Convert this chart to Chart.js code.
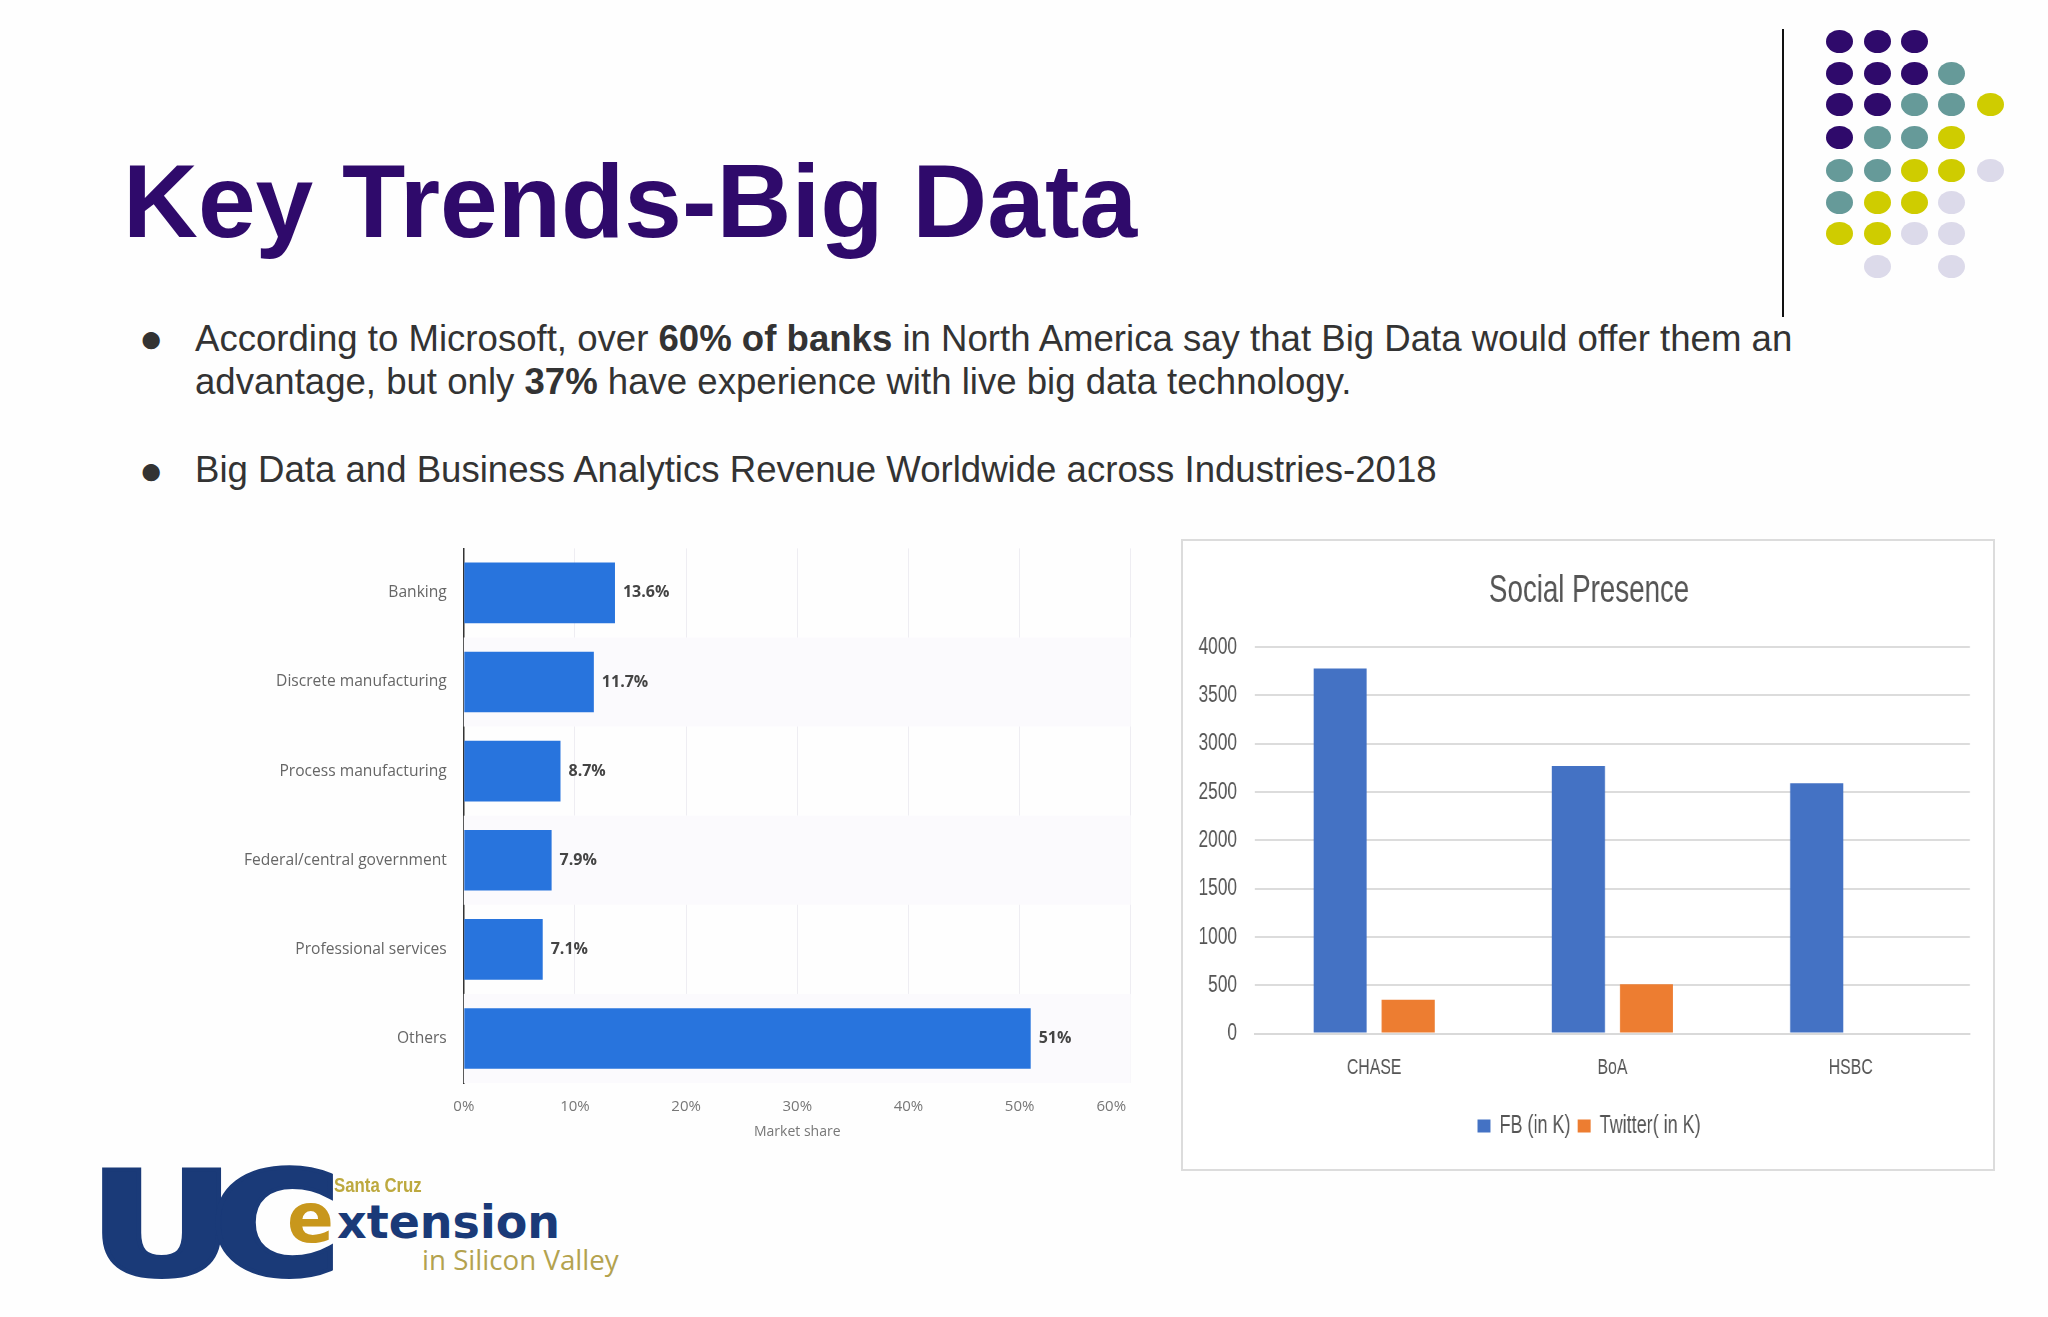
<!DOCTYPE html>
<html>
<head>
<meta charset="utf-8">
<script src="https://cdn.jsdelivr.net/npm/chart.js@4"></script>
<style>
    html, body { margin: 0; padding: 0; background: #fefefe; }
    #slide { position: relative; width: 2048px; height: 1317px; overflow: hidden; font-family: "Liberation Sans", Arial, sans-serif; }
    .txt { position: absolute; white-space: nowrap; line-height: 1; }
    .body { font-size: 36.6px; color: #333; }
    .bullet { font-size: 40px; color: #333; }
    .dot { position: absolute; width: 27px; height: 23px; border-radius: 50%; }
    canvas { position: absolute; }
    #frame { position: absolute; left: 1181px; top: 539px; width: 810px; height: 628px; border: 2px solid #dcdcdc; background: #fff; }
    .logo { font-family: "DejaVu Sans", sans-serif; font-weight: bold; color: #1a3a78; }
    /* the bank chart looks squeezed sideways in the original, so its canvas is squeezed too */
    #socialChart { transform: scaleX(0.72); transform-origin: left top; }
</style>
</head>
<body>
<div id="slide">
    <div class="txt" style="left:123px; top:150px; font-size:103.7px; font-weight:bold; color:#2f0a6b;">Key Trends-Big Data</div>

    <div class="txt bullet" style="left:139px; top:318px;">●</div>
    <div class="txt body" style="left:195px; top:321px;">According to Microsoft, over <b>60% of banks</b> in North America say that Big Data would offer them an</div>
    <div class="txt body" style="left:195px; top:364px;">advantage, but only <b>37%</b> have experience with live big data technology.</div>
    <div class="txt bullet" style="left:139px; top:450px;">●</div>
    <div class="txt body" style="left:195px; top:452px;">Big Data and Business Analytics Revenue Worldwide across Industries-2018</div>

    <div style="position:absolute; left:1782px; top:29px; width:2px; height:288px; background:#111;"></div>
    <div id="dots"></div>

    <canvas id="shareChart" style="left:100px; top:530px;" width="1080" height="620"></canvas>
    <div id="frame"></div>
    <canvas id="socialChart" style="left:1182px; top:539px;" width="1132" height="633"></canvas>

    <div class="txt logo" style="left:88px; top:1152px; font-size:145px; letter-spacing:-21px; -webkit-text-stroke:4px #1a3a78; transform:scaleX(1.25); transform-origin:left top;">UC</div>
    <div class="txt logo" style="left:287px; top:1184px; font-size:69px; color:#c8971c;">e</div>
    <div class="txt logo" style="left:337px; top:1199px; font-size:46px;">xtension</div>
    <div class="txt" style="left:334px; top:1175px; font-size:20px; font-weight:bold; color:#bda93f; transform:scaleX(0.84); transform-origin:left top;">Santa Cruz</div>
    <div class="txt" style="left:422px; top:1246px; font-size:27.7px; color:#b3a24e; font-family:'Open Sans';">in Silicon Valley</div>
</div>

<script>
// Market share chart
const shareCategories = ['Banking', 'Discrete manufacturing', 'Process manufacturing', 'Federal/central government', 'Professional services', 'Others'];
const shareValues = [13.6, 11.7, 8.7, 7.9, 7.1, 51];
const shareTicks = [0, 10, 20, 30, 40, 50, 60];

// Social presence chart
const socialCategories = ['CHASE', 'BoA', 'HSBC'];
const fbValues = [3780, 2770, 2590];
const twitterValues = [350, 510, 0];

// Decoration in the top right corner, P purple, T teal, Y yellow, L lavender
const dotRows = ['PPP', 'PPPT', 'PPTTY', 'PTTY', 'TTYYL', 'TYYL', 'YYLL', ' L L'];
const dotColors = { P: '#2f0a6b', T: '#669a99', Y: '#cfcc00', L: '#dcdaea' };
const dotColumnsX = [1839, 1877, 1914, 1951, 1990];
const dotRowsY = [41, 73, 104, 137, 170, 202, 233, 266];

const dotsBox = document.getElementById('dots');
dotRows.forEach((row, r) => {
    row.split('').forEach((c, i) => {
        if (c === ' ') return;
        const dot = document.createElement('div');
        dot.className = 'dot';
        dot.style.left = (dotColumnsX[i] - 13.5) + 'px';
        dot.style.top = (dotRowsY[r] - 11.5) + 'px';
        dot.style.background = dotColors[c];
        dotsBox.appendChild(dot);
    });
});

// Draws the pale bands behind every second row
const rowBands = {
    id: 'rowBands',
    beforeDatasetsDraw(chart) {
        const { ctx, chartArea, scales } = chart;
        const rowHeight = scales.y.height / shareCategories.length;
        ctx.save();
        ctx.fillStyle = '#fbfafd';
        shareCategories.forEach((name, i) => {
            if (i % 2 === 1) {
                ctx.fillRect(chartArea.left, scales.y.getPixelForValue(i) - rowHeight / 2, chartArea.width, rowHeight);
            }
        });
        ctx.restore();
    }
};

// Writes the value next to each bar
const valueLabels = {
    id: 'valueLabels',
    afterDatasetsDraw(chart) {
        const ctx = chart.ctx;
        ctx.save();
        ctx.font = 'bold 16px "Open Sans"';
        ctx.fillStyle = '#444';
        ctx.textBaseline = 'middle';
        chart.getDatasetMeta(0).data.forEach((bar, i) => {
            ctx.fillText(shareValues[i] + '%', bar.x + 8, bar.y);
        });
        ctx.restore();
    }
};

new Chart(document.getElementById('shareChart'), {
    type: 'bar',
    data: {
        labels: shareCategories,
        datasets: [{
            data: shareValues,
            backgroundColor: '#2874dd',
            categoryPercentage: 0.68,
            barPercentage: 1
        }]
    },
    options: {
        indexAxis: 'y',
        responsive: false,
        animation: false,
        layout: { padding: { top: 12.5, right: 11, bottom: 0, left: 0 } },
        plugins: { legend: { display: false }, tooltip: { enabled: false } },
        scales: {
            x: {
                min: 0,
                max: 60,
                afterBuildTicks: axis => { axis.ticks = shareTicks.map(v => ({ value: v })); },
                afterFit: axis => { axis.height = 67; },
                grid: { color: '#eeedf2', drawTicks: false },
                border: { display: false },
                title: { display: true, text: 'Market share', color: '#777', font: { family: 'Open Sans', size: 14 }, padding: { top: 4, bottom: 10 } },
                ticks: {
                    color: '#777',
                    font: { family: 'Open Sans', size: 15 },
                    padding: 15,
                    maxRotation: 0,
                    callback: v => (v === 60 ? v + '%          ' : v + '%')
                }
            },
            y: {
                afterFit: axis => { axis.width = 363.8; },
                grid: { display: false },
                border: { color: '#333', width: 1.5 },
                ticks: { color: '#666', font: { family: 'Open Sans', size: 15.6 }, padding: 9 }
            }
        }
    },
    plugins: [rowBands, valueLabels]
});

new Chart(document.getElementById('socialChart'), {
    type: 'bar',
    data: {
        labels: socialCategories,
        datasets: [
            { label: 'FB (in K)', data: fbValues, backgroundColor: '#4472c4', categoryPercentage: 0.571, barPercentage: 0.78 },
            { label: 'Twitter( in K)', data: twitterValues, backgroundColor: '#ed7d31', categoryPercentage: 0.571, barPercentage: 0.78 }
        ]
    },
    options: {
        responsive: false,
        animation: false,
        layout: { padding: { top: 0, right: 22, bottom: 23.5, left: 20.8 } },
        plugins: {
            tooltip: { enabled: false },
            title: {
                display: true,
                text: 'Social Presence',
                color: '#555',
                font: { family: 'Liberation Sans', size: 38.5, weight: 'normal', lineHeight: 1.2 },
                padding: { top: 29, bottom: 33 }
            },
            legend: {
                position: 'bottom',
                labels: { color: '#555', font: { family: 'Liberation Sans', size: 25 }, boxWidth: 18, boxHeight: 13, padding: 10 }
            }
        },
        scales: {
            x: {
                afterFit: axis => { axis.height = 70; },
                grid: { display: false },
                border: { color: '#d9d9d9', width: 2 },
                ticks: { color: '#555', font: { family: 'Liberation Sans', size: 22 }, padding: 13 }
            },
            y: {
                min: 0,
                max: 4000,
                afterFit: axis => { axis.width = 80.6; },
                grid: { color: '#dcdcdc', lineWidth: 2, drawTicks: false },
                border: { display: false },
                ticks: {
                    stepSize: 500,
                    color: '#555',
                    font: { family: 'Liberation Sans', size: 24 },
                    padding: 25,
                    callback: v => String(v)
                }
            },
            // empty axis, only keeps the plot off the right side so title and legend stay centred
            spacer: {
                position: 'right',
                afterFit: axis => { axis.width = 15.8; },
                grid: { display: false },
                border: { display: false },
                ticks: { display: false }
            }
        }
    }
});
</script>
</body>
</html>
